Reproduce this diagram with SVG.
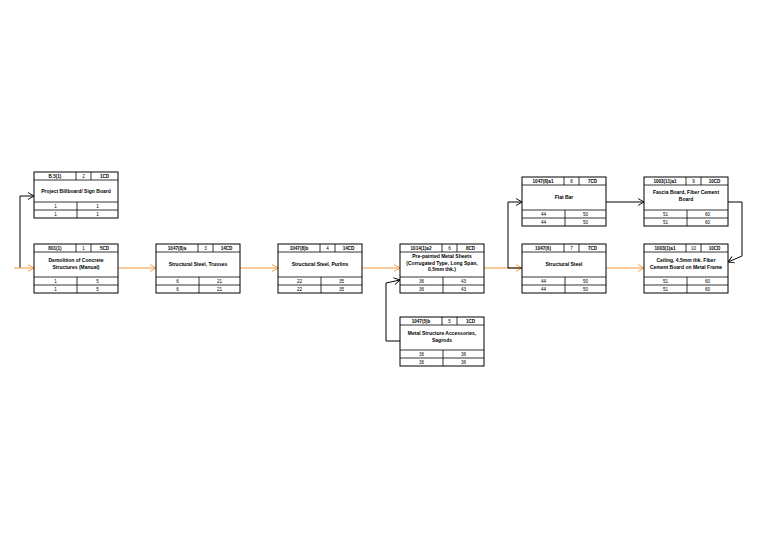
<svg xmlns="http://www.w3.org/2000/svg" width="768" height="543" viewBox="0 0 768 543">
<defs>
<style>
rect{fill:#fff;stroke:#000;stroke-width:1}
line.g{stroke:#000;stroke-width:0.8}
text{font-family:"Liberation Sans",Arial,sans-serif;font-size:4.6px;text-anchor:middle;fill:#000}
.b{font-weight:bold}
.t{font-weight:bold;font-size:5px}
.k{fill:none;stroke:#000;stroke-width:1}
.o{fill:none;stroke:#f39a3a;stroke-width:1}
</style>
<marker id="ak" markerWidth="8" markerHeight="8" refX="7" refY="4" orient="auto" markerUnits="userSpaceOnUse"><path d="M1,0.5 L7,4 L1,7.5" fill="none" stroke="#000" stroke-width="0.9"/></marker>
<marker id="ao" markerWidth="8" markerHeight="8" refX="7" refY="4" orient="auto" markerUnits="userSpaceOnUse"><path d="M1,0.5 L7,4 L1,7.5" fill="none" stroke="#f39a3a" stroke-width="0.9"/></marker>
<g id="n">
<rect x="0" y="0" width="84" height="49"/>
<line class="g" x1="0" y1="8" x2="84" y2="8"/>
<line class="g" x1="0" y1="33" x2="84" y2="33"/>
<line class="g" x1="0" y1="41" x2="84" y2="41"/>
<line class="g" x1="42" y1="0" x2="42" y2="8"/>
<line class="g" x1="57" y1="0" x2="57" y2="8"/>
<line class="g" x1="43" y1="33" x2="43" y2="49"/>
</g>
<g id="s">
<rect x="0" y="0" width="84" height="46"/>
<line class="g" x1="0" y1="8" x2="84" y2="8"/>
<line class="g" x1="0" y1="30" x2="84" y2="30"/>
<line class="g" x1="0" y1="38" x2="84" y2="38"/>
<line class="g" x1="42" y1="0" x2="42" y2="8"/>
<line class="g" x1="57" y1="0" x2="57" y2="8"/>
<line class="g" x1="43" y1="30" x2="43" y2="46"/>
</g>
</defs>
<rect x="0" y="0" width="768" height="543" style="stroke:none"/>
<g id="connectors">
<path class="k" d="M20,268 V196 H34" marker-end="url(#ak)"/>
<path class="o" d="M14,268 H34" marker-end="url(#ao)"/>
<path class="o" d="M118,268 H156" marker-end="url(#ao)"/>
<path class="o" d="M240,268 H278" marker-end="url(#ao)"/>
<path class="o" d="M362,268 H400" marker-end="url(#ao)"/>
<path class="o" d="M484,268 H522" marker-end="url(#ao)"/>
<path class="o" d="M606,268 H644" marker-end="url(#ao)"/>
<path class="k" d="M522,268 H508 V202 H522" marker-end="url(#ak)"/>
<path class="k" d="M606,202 H644" marker-end="url(#ak)"/>
<path class="k" d="M728,202 H742 V256 L728,262" marker-end="url(#ak)"/>
<path class="k" d="M400,341 H386 V283 L400,280" marker-end="url(#ak)"/>
</g>
<g id="node2" transform="translate(34,172)"><use href="#s"/>
<text class="b" x="21" y="5.8">B.5(1)</text><text x="49.5" y="5.8">2</text><text class="b" x="70.5" y="5.8">1CD</text>
<text class="t" x="42" y="20.5">Project Billboard/ Sign Board</text>
<text x="21.5" y="35.8">1</text><text x="63.5" y="35.8">1</text><text x="21.5" y="43.8">1</text><text x="63.5" y="43.8">1</text></g>
<g id="node1" transform="translate(34,244)"><use href="#n"/>
<text class="b" x="21" y="5.8">801(1)</text><text x="49.5" y="5.8">1</text><text class="b" x="70.5" y="5.8">5CD</text>
<text class="t" x="42" y="18">Demolition of Concrete</text><text class="t" x="42" y="24.5">Structures (Manual)</text>
<text x="21.5" y="38.8">1</text><text x="63.5" y="38.8">5</text><text x="21.5" y="46.8">1</text><text x="63.5" y="46.8">5</text></g>
<g id="node3" transform="translate(156,244)"><use href="#n"/>
<text class="b" x="21" y="5.8">1047(8)a</text><text x="49.5" y="5.8">3</text><text class="b" x="70.5" y="5.8">14CD</text>
<text class="t" x="42" y="22">Structural Steel, Trusses</text>
<text x="21.5" y="38.8">6</text><text x="63.5" y="38.8">21</text><text x="21.5" y="46.8">6</text><text x="63.5" y="46.8">21</text></g>
<g id="node4" transform="translate(278,244)"><use href="#n"/>
<text class="b" x="21" y="5.8">1047(8)b</text><text x="49.5" y="5.8">4</text><text class="b" x="70.5" y="5.8">14CD</text>
<text class="t" x="42" y="22">Structural Steel, Purlins</text>
<text x="21.5" y="38.8">22</text><text x="63.5" y="38.8">35</text><text x="21.5" y="46.8">22</text><text x="63.5" y="46.8">35</text></g>
<g id="node6" transform="translate(400,244)"><use href="#n"/>
<text class="b" x="21" y="5.8">1014(1)a2</text><text x="49.5" y="5.8">6</text><text class="b" x="70.5" y="5.8">8CD</text>
<text class="t" x="42" y="14">Pre-painted Metal Sheets</text><text class="t" x="42" y="20.5">(Corrugated Type, Long Span,</text><text class="t" x="42" y="27">0.5mm thk.)</text>
<text x="21.5" y="38.8">36</text><text x="63.5" y="38.8">43</text><text x="21.5" y="46.8">36</text><text x="63.5" y="46.8">43</text></g>
<g id="node5" transform="translate(400,317)"><use href="#n"/>
<text class="b" x="21" y="5.8">1047(5)b</text><text x="49.5" y="5.8">5</text><text class="b" x="70.5" y="5.8">1CD</text>
<text class="t" x="42" y="18">Metal Structure Accessories,</text><text class="t" x="42" y="24.5">Sagrods</text>
<text x="21.5" y="38.8">36</text><text x="63.5" y="38.8">36</text><text x="21.5" y="46.8">36</text><text x="63.5" y="46.8">36</text></g>
<g id="node7" transform="translate(522,244)"><use href="#n"/>
<text class="b" x="21" y="5.8">1047(6)</text><text x="49.5" y="5.8">7</text><text class="b" x="70.5" y="5.8">7CD</text>
<text class="t" x="42" y="22">Structural Steel</text>
<text x="21.5" y="38.8">44</text><text x="63.5" y="38.8">50</text><text x="21.5" y="46.8">44</text><text x="63.5" y="46.8">50</text></g>
<g id="node8" transform="translate(522,177)"><use href="#n"/>
<text class="b" x="21" y="5.8">1047(8)a1</text><text x="49.5" y="5.8">8</text><text class="b" x="70.5" y="5.8">7CD</text>
<text class="t" x="42" y="22">Flat Bar</text>
<text x="21.5" y="38.8">44</text><text x="63.5" y="38.8">50</text><text x="21.5" y="46.8">44</text><text x="63.5" y="46.8">50</text></g>
<g id="node9" transform="translate(644,177)"><use href="#n"/>
<text class="b" x="21" y="5.8">1003(11)a1</text><text x="49.5" y="5.8">9</text><text class="b" x="70.5" y="5.8">10CD</text>
<text class="t" x="42" y="17">Fascia Board, Fiber Cement</text><text class="t" x="42" y="23.5">Board</text>
<text x="21.5" y="38.8">51</text><text x="63.5" y="38.8">60</text><text x="21.5" y="46.8">51</text><text x="63.5" y="46.8">60</text></g>
<g id="node10" transform="translate(644,244)"><use href="#n"/>
<text class="b" x="21" y="5.8">1003(1)a1</text><text x="49.5" y="5.8">10</text><text class="b" x="70.5" y="5.8">10CD</text>
<text class="t" x="42" y="18">Ceiling, 4.5mm thk. Fiber</text><text class="t" x="42" y="24.5">Cement Board on Metal Frame</text>
<text x="21.5" y="38.8">51</text><text x="63.5" y="38.8">60</text><text x="21.5" y="46.8">51</text><text x="63.5" y="46.8">60</text></g>
</svg>
